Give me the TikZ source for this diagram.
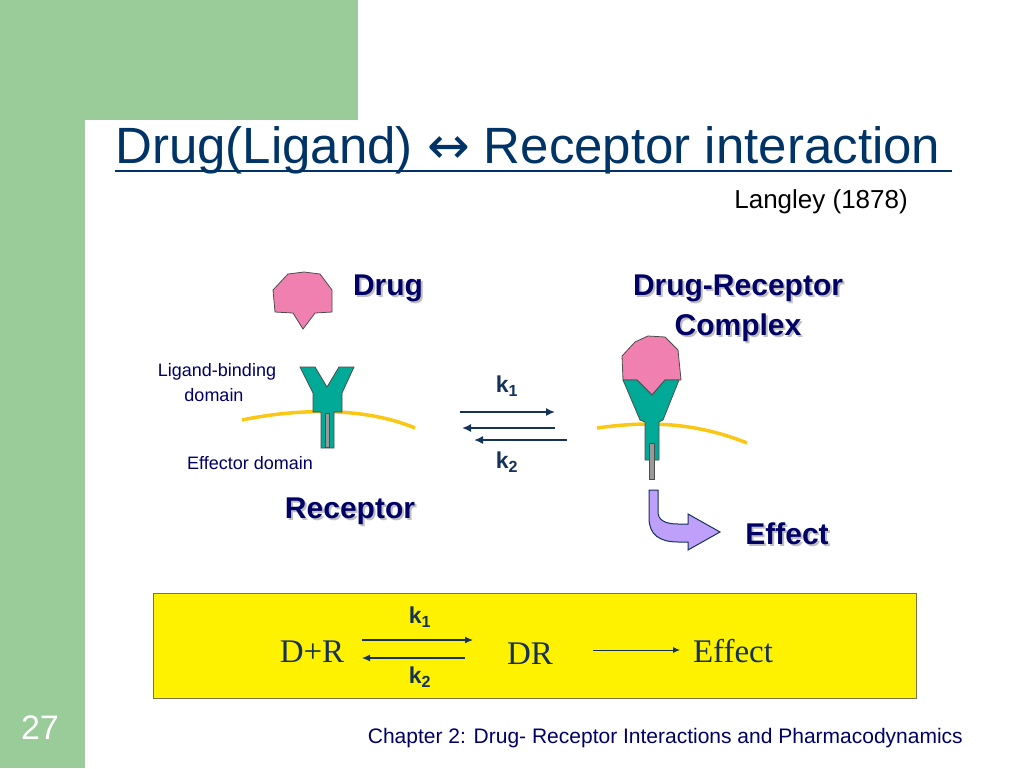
\documentclass[tikz,border=0pt]{standalone}
\usepackage{fontspec}
\usetikzlibrary{arrows.meta}
\setmainfont{Liberation Sans}
\newfontfamily\serifx{Liberation Serif}
\newfontfamily\dejavu{DejaVu Sans}
\definecolor{bggreen}{RGB}{153,204,153}
\definecolor{titleblue}{RGB}{0,51,102}
\definecolor{navy}{RGB}{0,0,102}
\definecolor{arrowc}{RGB}{20,50,90}
\definecolor{pinkd}{RGB}{240,128,176}
\definecolor{tealr}{RGB}{0,170,150}
\definecolor{memb}{RGB}{250,200,20}
\definecolor{lav}{RGB}{190,160,250}
\begin{document}
\begin{tikzpicture}[x=1pt,y=-1pt,
  lbl/.style={font=\fontsize{30}{32}\selectfont\bfseries,text=navy},
  shd/.style={font=\fontsize{30}{32}\selectfont\bfseries,text=black!25},
  small/.style={font=\fontsize{18}{20}\selectfont,text=navy},
  kk/.style={font=\fontsize{23}{25}\selectfont\bfseries,text=arrowc},
  rx/.style={font=\serifx\fontsize{33}{35}\selectfont,text=arrowc},
  arr/.style={draw=arrowc,line width=1.6pt,-{Latex[length=9pt,width=8pt]}},
  arrb/.style={draw=arrowc,line width=1.2pt,-{Latex[length=8pt,width=7pt]}}]
\useasboundingbox (0,0) rectangle (1024,768);
\fill[bggreen] (0,0) rectangle (358,120);
\fill[bggreen] (0,0) rectangle (85,768);
\fill[white] (85,768) -- (85,155) .. controls (85,125) .. (120,120) -- (1024,120) -- (1024,768) -- cycle;
% title
\node[anchor=base west,inner sep=0,text=titleblue,font=\fontsize{51}{53}\selectfont] (title) at (115,163) {Drug(Ligand) {\dejavu ↔} Receptor interaction};
\draw[titleblue,line width=1.5pt] (115,171) -- (952,171);
\node[anchor=base east,inner sep=0,font=\fontsize{26}{28}\selectfont] (lang) at (908,208) {Langley (1878)};
% drug
\draw[fill=pinkd,draw=black!70,line width=0.8pt] (273,290) -- (288,274) -- (304,272) -- (320,274) -- (332,290) -- (332,312) -- (315,313) -- (303,329) -- (293,313) -- (275,312) -- cycle;
% membrane left
\draw[memb,line width=3.5pt] (242,420) .. controls (290,410) and (360,405) .. (415,428);
% receptor
\draw[fill=tealr,draw=black!70,line width=0.8pt] (300,367) -- (315,367) -- (327,387) -- (339,367) -- (354,367) -- (342,393) -- (342,412) -- (334,412) -- (334,448) -- (321,448) -- (321,412) -- (313,412) -- (313,393) -- cycle;
\draw[fill=black!40,draw=black!70,line width=0.5pt] (325,413) rectangle (329,447);
% complex
\draw[memb,line width=3.5pt] (597,428) .. controls (640,422) and (690,420) .. (747,443);
\draw[fill=pinkd,draw=black!70,line width=0.8pt] (623,380) -- (622,356) -- (635,342) -- (648,336) -- (665,337) -- (678,350) -- (681,380) -- (665,380) -- (652,395) -- (637,380) -- cycle;
\draw[fill=tealr,draw=black!70,line width=0.8pt] (623,380) -- (637,380) -- (652,395) -- (665,380) -- (679,380) -- (663,420) -- (659,422) -- (659,460) -- (645,460) -- (645,422) -- (640,420) -- cycle;
\draw[fill=black!40,draw=black!70,line width=0.5pt] (649,443) rectangle (654,479);
% effect arrow
\draw[fill=lav,draw=arrowc,line width=1pt] (649,490) -- (658,490) -- (658,512) .. controls (658,520) and (665,524) .. (678,524) -- (688,524) -- (688,514) -- (720,532) -- (688,550) -- (688,542) -- (678,542) .. controls (660,542) and (649,535) .. (649,518) -- cycle;
% labels
\node[shd] at (390,290) {Drug};
\node[lbl] (drug) at (388,288) {Drug};
\node[shd] at (740,290) {Drug-Receptor};
\node[lbl] (drc) at (738,288) {Drug-Receptor};
\node[shd] at (740,330) {Complex};
\node[lbl] (cplx) at (738,328) {Complex};
\node[shd] at (352,513) {Receptor};
\node[lbl] (rec) at (350,511) {Receptor};
\node[shd] at (789,536) {Effect};
\node[lbl] (eff) at (787,534) {Effect};
\node[small] (lb) at (217,372) {Ligand-binding};
\node[small] (dom) at (214,395) {domain};
\node[small] (ed) at (250,463) {Effector domain};
% k arrows
\node[kk] (k1) at (507,386) {k\textsubscript{1}};
\node[kk] (k2) at (507,462) {k\textsubscript{2}};
\coordinate (a1) at (460,412); \coordinate (a2) at (555,412);
\coordinate (b1) at (555,428); \coordinate (b2) at (462,428);
\coordinate (c1) at (567,440); \coordinate (c2) at (474,440);
\draw[arr] (a1) -- (a2);
\draw[arr] (b1) -- (b2);
\draw[arr] (c1) -- (c2);
% yellow box
\draw[fill=yellow,draw=black!60!yellow,line width=1pt] (153,593) rectangle (916,698);
\node[rx] (dr0) at (312,652) {D+R};
\node[rx] (dr) at (530,654) {DR};
\node[rx] (ef) at (733,651) {Effect};
\node[kk] (bk1) at (420,617) {k\textsubscript{1}};
\node[kk] (bk2) at (420,677) {k\textsubscript{2}};
\coordinate (d1) at (362,640); \coordinate (d2) at (473,640);
\coordinate (e1) at (465,658); \coordinate (e2) at (362,658);
\coordinate (f1) at (593,650); \coordinate (f2) at (680,650);
\draw[arrb] (d1) -- (d2);
\draw[arrb] (e1) -- (e2);
\draw[draw=arrowc,line width=0.8pt,-{Latex[length=7pt,width=6pt]}] (f1) -- (f2);
% footer
\node[text=white,font=\fontsize{34}{36}\selectfont] (num) at (40,728) {27};
\node[anchor=base east,inner sep=0,text=navy,font=\fontsize{21}{23}\selectfont] (foot) at (963,743) {Chapter 2: Drug- Receptor Interactions and Pharmacodynamics};
\end{tikzpicture}
\end{document}
